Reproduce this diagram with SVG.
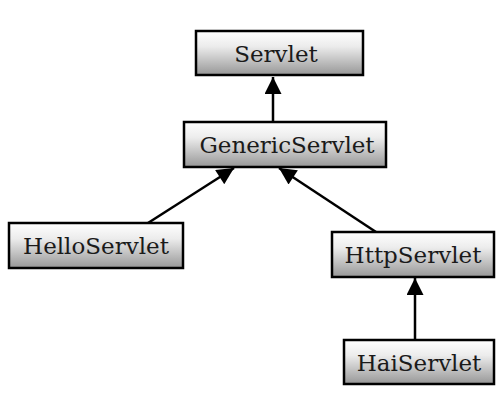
<svg xmlns="http://www.w3.org/2000/svg" width="500" height="400" viewBox="0 0 500 400">
<defs>
<linearGradient id="g" x1="0" y1="0" x2="0" y2="1">
<stop offset="0" stop-color="#ffffff"/>
<stop offset="0.35" stop-color="#ececec"/>
<stop offset="1" stop-color="#979797"/>
</linearGradient>
<marker id="a" viewBox="0 0 12 12" refX="12" refY="6" markerWidth="20" markerHeight="17" markerUnits="userSpaceOnUse" orient="auto">
<path d="M0,0 L12,6 L0,12 Z" fill="#000"/>
</marker>
</defs>
<style>
.box{fill:url(#g);stroke:#000;stroke-width:2.5}
.lbl{font-family:"DejaVu Serif",serif;font-size:23px;fill:#1a1a1a;text-anchor:middle}
.edge{stroke:#000;stroke-width:2.5;fill:none;marker-end:url(#a)}
</style>
<rect width="500" height="400" fill="#fff"/>
<g id="connectors">
<line class="edge" x1="273" y1="122" x2="273" y2="77"/>
<line class="edge" x1="148" y1="223" x2="234" y2="168"/>
<line class="edge" x1="376" y1="232" x2="279" y2="168"/>
<line class="edge" x1="415" y1="340" x2="415" y2="278"/>
</g>
<g id="servlet">
<rect class="box" x="196" y="31" width="167" height="44"/>
<text class="lbl" x="276" y="62">Servlet</text>
</g>
<g id="genericservlet">
<rect class="box" x="184" y="122" width="202" height="45"/>
<text class="lbl" x="287" y="153">GenericServlet</text>
</g>
<g id="helloservlet">
<rect class="box" x="9" y="223" width="174" height="45"/>
<text class="lbl" x="96" y="254">HelloServlet</text>
</g>
<g id="httpservlet">
<rect class="box" x="332" y="232" width="162" height="45"/>
<text class="lbl" x="413" y="263">HttpServlet</text>
</g>
<g id="haiservlet">
<rect class="box" x="344" y="340" width="150" height="44"/>
<text class="lbl" x="419" y="371">HaiServlet</text>
</g>
</svg>
